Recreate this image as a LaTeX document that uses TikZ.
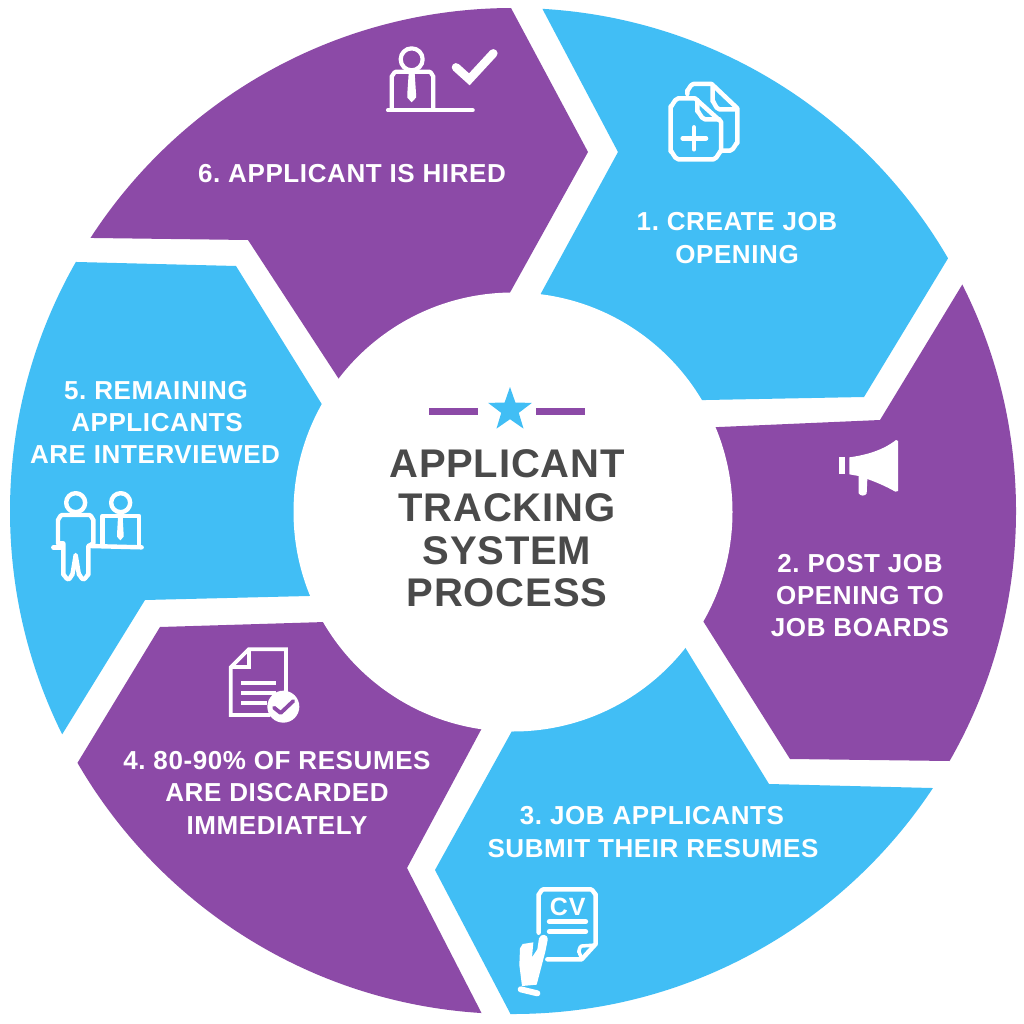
\documentclass[tikz,border=0pt]{standalone}
\usepackage{fontspec}
\usetikzlibrary{shapes.geometric}
\setmainfont{Liberation Sans}
\newfontfamily\labf[LetterSpace=2.3]{Liberation Sans}
\newfontfamily\ttlf[LetterSpace=2]{Liberation Sans}
\frenchspacing
\definecolor{bl}{HTML}{41BEF5}
\definecolor{pu}{HTML}{8C4AA7}
\definecolor{ti}{HTML}{4A4A4A}
\tikzset{
  lab/.style={anchor=base,inner sep=0pt,text=white,font=\fontsize{26}{30}\selectfont\labf\bfseries},
  ttl/.style={anchor=base,inner sep=0pt,text=ti,font=\fontsize{40}{44}\selectfont\ttlf\bfseries},
  icon/.style={shift={#1},x=.33333pt,y=-.33333pt},
  ln/.style={draw=white,line width=#1,line cap=round,line join=round},
  ln/.default=4.2pt
}
\begin{document}
\begin{tikzpicture}[x=1pt,y=-1pt]
\useasboundingbox (0,0) rectangle (1024,1024);
\fill[white] (0,0) rectangle (1024,1024);
\begin{scope}
\clip (513,511) circle[radius=503pt];
% segment 1
\fill[bl] (618,152) -- (543,10) -- (532,-12) -- (1100,-15) -- (1020,140) -- (947,260) -- (864,397) -- (685,400.4) -- (513,512) -- (533,308) -- cycle;
% segment 2
\fill[pu] (696,428) -- (880,420) -- (962,285) -- (1010,205) -- (1100,205) -- (1100,764) -- (950,761) -- (790,759) -- (692,603.5) -- (513,512) -- cycle;
% segment 3
\fill[bl] (675,631) -- (769,784) -- (932,788) -- (1100,792) -- (1100,1100) -- (550,1100) -- (510,1013) -- (435,870) -- (520,716.5) -- (513,512) -- cycle;
% segment 4
\fill[pu] (345,621.4) -- (160,627) -- (78,762) -- (30,840) -- (30,1100) -- (520,1100) -- (481,1012) -- (407,868) -- (490,713) -- (513,512) -- cycle;
% segment 5
\fill[bl] (331,419) -- (236,266) -- (77,262) -- (-60,259) -- (-60,780) -- (30,787) -- (63,733) -- (145,600) -- (325,595.6) -- (513,512) -- cycle;
% segment 6
\fill[pu] (248,240) -- (94,238) -- (-40,236) -- (-40,-40) -- (490,-40) -- (511,8) -- (588,152) -- (502,307) -- (513,512) -- (348,393) -- cycle;
\end{scope}
\node[circle,fill=white,minimum size=439pt,inner sep=0pt] (hub) at (513,512) {};
% star and bars
\fill[pu] (429,408) rectangle (478,415);
\fill[pu] (536,408) rectangle (585,415);
\node[star,star points=5,star point ratio=2.5,fill=bl,minimum size=46pt,inner sep=0pt] (star) at (510,410) {};
% title
\node[ttl] (t1) at (507,477) {APPLICANT};
\node[ttl] (t2) at (507,521) {TRACKING};
\node[ttl] (t3) at (507,564) {SYSTEM};
\node[ttl] (t4) at (507,606) {PROCESS};
% labels
\node[lab] (a1) at (737,231) {1. CREATE JOB};
\node[lab] (a2) at (737,263) {OPENING};
\node[lab] (b1) at (860,572) {2. POST JOB};
\node[lab] (b2) at (860,604) {OPENING TO};
\node[lab] (b3) at (860,636) {JOB BOARDS};
\node[lab] (c1) at (652,824) {3. JOB APPLICANTS};
\node[lab] (c2) at (653,857) {SUBMIT THEIR RESUMES};
\node[lab] (d1) at (277,769) {4. 80-90\% OF RESUMES};
\node[lab] (d2) at (277,801) {ARE DISCARDED};
\node[lab] (d3) at (277,834) {IMMEDIATELY};
\node[lab] (e1) at (156,399) {5. REMAINING};
\node[lab] (e2) at (157,431) {APPLICANTS};
\node[lab] (e3) at (155,463) {ARE INTERVIEWED};
\node[lab] (f1) at (352,183) {6. APPLICANT IS HIRED};
% icon 6: hired
\begin{scope}[icon={(370,30)}]
\draw[ln] (125,88) circle[radius=11pt];
\draw[ln] (65,238) -- (65,138) to[out=-90,in=180] (78,125) -- (178,125) to[out=0,in=-90] (190,138) -- (190,238);
\draw[ln] (54,241) -- (308,241);
\fill[white] (116,130) -- (134,130) -- (138,190) -- (138,203) -- (125,217) -- (112,203) -- (112,190) -- cycle;
\draw[ln=8.5pt,line cap=round,line join=miter] (258,112) -- (298,148) -- (370,70);
\end{scope}
% icon 1: documents
\begin{scope}[icon={(650,70)}]
\draw[ln=4.5pt] (135,85) -- (85,85) to[out=180,in=-90] (62,108) -- (62,245) to[out=90,in=180] (85,268) -- (190,268) to[out=0,in=90] (213,245) -- (213,155) -- cycle;
\draw[ln=4.5pt] (142,90) -- (142,125) to[out=90,in=180] (165,148) -- (208,148);
\draw[ln=4.5pt] (112,72) -- (112,60) to[out=-90,in=180] (130,42) -- (185,42) -- (262,115) -- (262,220) to[out=90,in=0] (240,242) -- (218,242);
\draw[ln=4.5pt] (188,48) -- (188,95) to[out=90,in=180] (208,118) -- (258,118);
\draw[ln=4.5pt] (132,172) -- (132,238) (98,205) -- (168,205);
\end{scope}
% icon 2: megaphone
\begin{scope}[icon={(820,425)}]
\fill[white] (57,97) rectangle (75,148);
\fill[white] (88,97) .. controls (140,90) and (190,75) .. (228,45) -- (234,48) -- (234,198) -- (226,200) .. controls (200,185) and (170,172) .. (142,162) -- (140,205) .. controls (135,214) and (122,214) .. (116,205) -- (116,153) -- (88,148) -- cycle;
\end{scope}
% icon 3: CV
\begin{scope}[icon={(500,870)}]
\draw[ln=4.5pt] (116,188) -- (116,72) to[out=-90,in=180] (130,58) -- (272,58) to[out=0,in=-90] (287,72) -- (287,222) -- (245,268) -- (142,268);
\draw[ln=3.5pt] (287,225) -- (245,228) to[out=180,in=-90] (236,245) to[out=90,in=160] (248,265);
\node[anchor=base,inner sep=0pt,text=white,font=\fontsize{25}{26}\selectfont\bfseries] (cv) at (203,136) {C\kern1ptV};
\draw[ln=5pt] (148,155) -- (257,155) (148,185) -- (257,185);
\fill[white] (68,222) -- (100,217) -- (96,262) -- (112,238) -- (117,205) .. controls (122,190) and (144,190) .. (143,210) -- (136,245) -- (110,344) -- (66,348) -- (58,285) -- (60,235) -- cycle;
\draw[ln=6pt] (62,358) -- (112,370);
\end{scope}
% icon 4: document check
\begin{scope}[icon={(215,635)}]
\draw[ln=3.8pt,line join=miter] (165,240) -- (47,240) -- (47,97) -- (101,43) -- (213,43) -- (213,180);
\draw[ln=3.8pt,line join=miter] (101,47) -- (101,95) -- (50,95);
\draw[ln=3.8pt,line cap=butt] (78,145) -- (183,145) (78,175) -- (183,175) (78,205) -- (155,205);
\fill[white] (205,215) circle[radius=16pt];
\draw[draw=pu,line width=3.8pt,line cap=round,line join=round] (177,218) -- (197,234) -- (235,198);
\end{scope}
% icon 5: people
\begin{scope}[icon={(40,480)}]
\draw[ln=4.4pt] (107,68) circle[radius=9.5pt];
\draw[ln=4.4pt] (242,68) circle[radius=9.5pt];
\draw[ln=4.4pt] (70,190) -- (54,190) -- (54,118) to[out=-90,in=180] (66,105) -- (148,105) to[out=0,in=-90] (160,118) -- (160,190) -- (145,198) -- (145,285) to[out=90,in=0] (130,298) to[out=180,in=80] (117,285) -- (107,225) -- (97,285) to[out=100,in=0] (85,298) to[out=180,in=90] (70,285) -- cycle;
\draw[ln=4.4pt] (40,202) -- (68,202);
\draw[ln=4.4pt] (150,198) -- (305,202);
\draw[ln=4.4pt] (188,198) -- (188,108) -- (297,108) -- (297,200);
\fill[white] (234,110) -- (248,110) -- (251,165) -- (251,170) -- (241,181) -- (231,170) -- (231,165) -- cycle;
\end{scope}
\end{tikzpicture}
\end{document}
